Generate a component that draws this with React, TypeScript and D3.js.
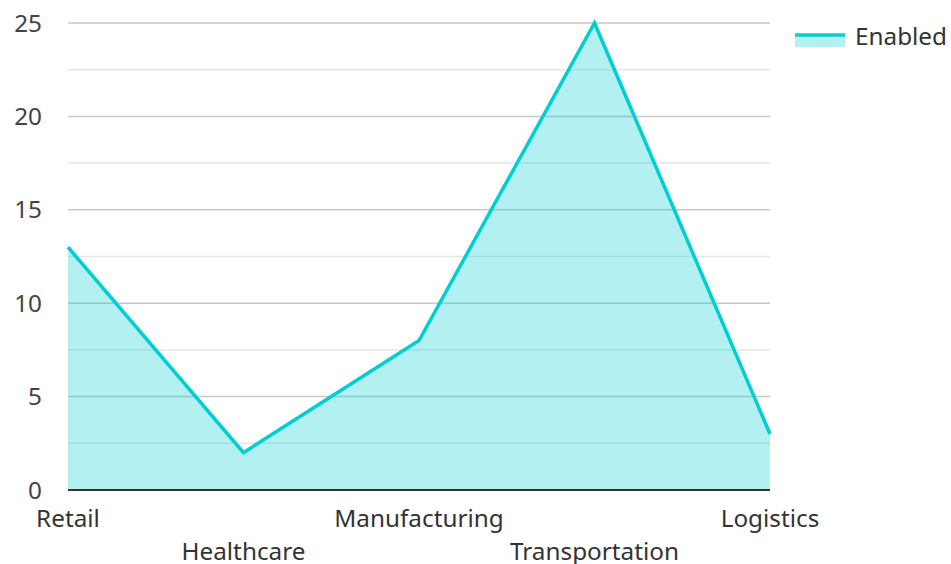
import React, { useEffect, useRef } from 'react';
import * as d3 from 'd3';

const categories = ['Retail', 'Healthcare', 'Manufacturing', 'Transportation', 'Logistics'];
const enabled = [13, 2, 8, 25, 3];
const yTicks = [0, 5, 10, 15, 20, 25];
const minorTicks = [2.5, 7.5, 12.5, 17.5, 22.5];
const seriesName = 'Enabled';

const W = 951, H = 564;
const left = 68, right = 770, top = 23, bottom = 490;
const lineColor = '#00CED1';
const font = '"Noto Sans", sans-serif';
const fs = 24.3;

export default function App() {
  const ref = useRef<SVGSVGElement>(null);

  useEffect(() => {
    const svg = d3.select(ref.current);
    svg.selectAll('*').remove();

    const x = d3.scalePoint().domain(categories).range([left, right]);
    const y = d3.scaleLinear().domain([0, 25]).range([bottom, top]);

    const area = d3.area<number>()
      .x((d, i) => x(categories[i])!)
      .y0(y(0))
      .y1(d => y(d));
    const line = d3.line<number>()
      .x((d, i) => x(categories[i])!)
      .y(d => y(d));

    svg.selectAll('line.minor').data(minorTicks).enter().append('line')
      .attr('x1', left).attr('x2', right)
      .attr('y1', d => y(d)).attr('y2', d => y(d))
      .attr('stroke', '#e6e6e6').attr('stroke-width', 1.5);
    svg.selectAll('line.major').data(yTicks.filter(t => t > 0)).enter().append('line')
      .attr('x1', left).attr('x2', right)
      .attr('y1', d => y(d)).attr('y2', d => y(d))
      .attr('stroke', '#c8c8c8').attr('stroke-width', 1.5);

    svg.append('path').attr('d', area(enabled)!).attr('fill', lineColor).attr('fill-opacity', 0.3);

    svg.append('path').attr('d', line(enabled)!).attr('fill', 'none')
      .attr('stroke', lineColor).attr('stroke-width', 3.5).attr('stroke-linejoin', 'miter');

    svg.append('line').attr('x1', left).attr('x2', right)
      .attr('y1', y(0)).attr('y2', y(0)).attr('stroke', '#333').attr('stroke-width', 2);

    svg.selectAll('text.ytick').data(yTicks).enter().append('text')
      .attr('x', 42).attr('y', d => y(d)).attr('dy', '0.35em')
      .attr('text-anchor', 'end').attr('font-family', font).attr('font-size', fs)
      .attr('fill', '#444').text(d => d);

    svg.selectAll('text.xtick').data(categories).enter().append('text')
      .attr('x', d => x(d)!).attr('y', (d, i) => (i % 2 === 0 ? 527 : 559.5))
      .attr('text-anchor', 'middle').attr('font-family', font).attr('font-size', fs)
      .attr('fill', '#333').text(d => d);

    const lg = svg.append('g');
    lg.append('rect').attr('x', 795).attr('y', 34).attr('width', 50).attr('height', 13)
      .attr('fill', lineColor).attr('fill-opacity', 0.3);
    lg.append('line').attr('x1', 795).attr('x2', 845).attr('y1', 35).attr('y2', 35)
      .attr('stroke', lineColor).attr('stroke-width', 3.5);
    lg.append('text').attr('x', 855).attr('y', 36).attr('dy', '0.35em')
      .attr('font-family', font).attr('font-size', fs).attr('fill', '#333').text(seriesName);
  }, []);

  return (
    <svg ref={ref} width={W} height={H} style={{ position: 'absolute', left: 0, top: 0 }} />
  );
}
